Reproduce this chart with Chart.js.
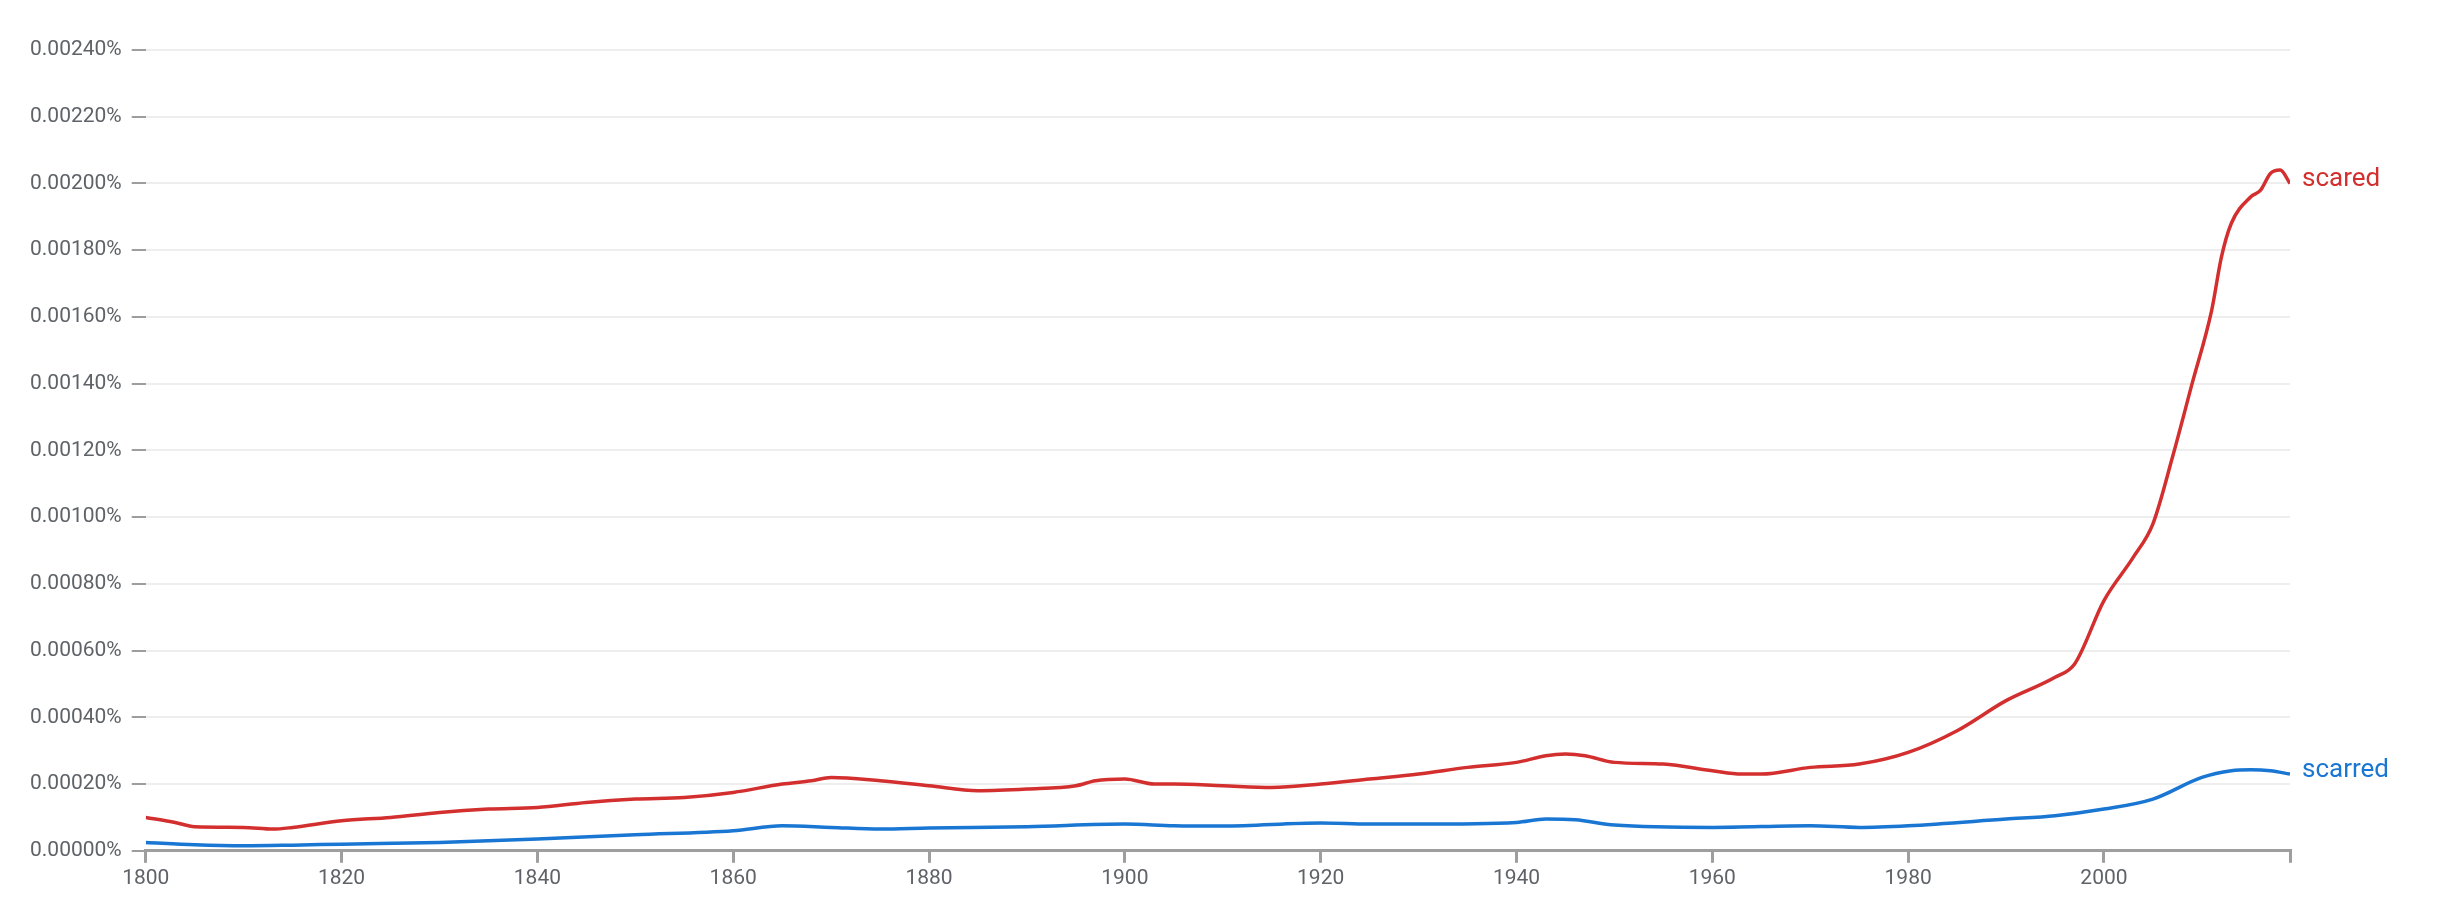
<!DOCTYPE html>
<html>
<head>
<meta charset="utf-8">
<script src="https://cdn.jsdelivr.net/npm/chart.js@4"></script>
<style>
  html, body { margin: 0; padding: 0; background: #fff; }
  #wrap { width: 2446px; height: 902px; }
</style>
</head>
<body>
<div id="wrap"><canvas id="chart" width="2446" height="902"></canvas></div>
<script>
// values in units of 0.00001 %
const scaredYears = [1800,1803,1805,1810,1813,1815,1820,1825,1830,1835,1840,1845,1850,1855,1860,1865,1868,1870,1875,1880,1885,1890,1895,1897,1900,1903,1905,1910,1915,1920,1925,1930,1935,1940,1943,1945,1947,1950,1955,1960,1963,1965,1970,1975,1980,1985,1990,1995,1997,2000,2003,2005,2007,2009,2011,2012,2013,2015,2016,2017,2018,2019];
const scaredValues = [10,8.5,7.2,7,6.5,7,9,10,11.5,12.5,13,14.5,15.5,16,17.5,20,21,22,21,19.5,18,18.5,19.5,21,21.5,20,20,19.5,19,20,21.5,23,25,26.5,28.5,29,28.5,26.5,26,24,23,23,25,26,29.5,36,45,52,56,75,88,98,118,140,162,178,188,196,198,203,204,200];
const scarredYears = [1800,1805,1810,1815,1820,1830,1840,1850,1860,1865,1870,1875,1880,1890,1900,1905,1910,1920,1925,1930,1940,1943,1946,1950,1960,1970,1975,1980,1990,1995,2000,2005,2010,2013,2015,2017,2019];
const scarredValues = [2.5,1.8,1.5,1.7,2,2.5,3.5,4.8,6,7.5,7,6.5,6.8,7.2,8,7.5,7.4,8.3,8,8,8.5,9.5,9.3,7.7,7,7.5,7,7.5,9.5,10.5,12.5,15.5,22,24,24.3,24,23];
const seriesNames = ['scared', 'scarred'];
const seriesColors = ['#d32f2f', '#1976d2'];

function toPoints(years, vals) {
    return years.map((y, i) => ({ x: y, y: vals[i] * 1e-5 }));
}

const endLabels = {
    id: 'endLabels',
    afterDatasetsDraw(chart) {
        const ctx = chart.ctx;
        ctx.save();
        ctx.font = '26px Roboto';
        ctx.textBaseline = 'middle';
        chart.data.datasets.forEach((ds, i) => {
            const pts = chart.getDatasetMeta(i).data;
            const p = pts[pts.length - 1];
            ctx.fillStyle = ds.borderColor;
            ctx.fillText(ds.label, p.x + 12, p.y - 4);
        });
        ctx.restore();
    }
};

new Chart(document.getElementById('chart').getContext('2d'), {
    type: 'line',
    data: {
        datasets: [
            { label: seriesNames[0], data: toPoints(scaredYears, scaredValues), borderColor: seriesColors[0], borderWidth: 3.5, pointRadius: 0, cubicInterpolationMode: 'monotone' },
            { label: seriesNames[1], data: toPoints(scarredYears, scarredValues), borderColor: seriesColors[1], borderWidth: 3.5, pointRadius: 0, cubicInterpolationMode: 'monotone' }
        ]
    },
    options: {
        responsive: false,
        animation: false,
        layout: { padding: { left: 20, right: 156, top: 50, bottom: 8 } },
        plugins: { legend: { display: false }, tooltip: { enabled: false } },
        scales: {
            x: {
                type: 'linear', min: 1800, max: 2019,
                grid: { drawOnChartArea: false, tickLength: 12, tickColor: '#9e9e9e', lineWidth: 3 },
                border: { color: '#9e9e9e', width: 3 },
                ticks: { stepSize: 20, color: '#5f6368', font: { family: 'Roboto', size: 21 }, callback: v => v % 20 === 0 ? String(v) : '' }
            },
            y: {
                min: 0, max: 0.0024,
                grid: { color: '#eeeeee', lineWidth: 2, tickLength: 14, tickColor: '#9e9e9e' },
                border: { display: false },
                ticks: { stepSize: 0.0002, padding: 10, color: '#5f6368', font: { family: 'Roboto', size: 21 }, callback: v => v.toFixed(5) + '%' }
            }
        }
    },
    plugins: [endLabels]
});
</script>
</body>
</html>
